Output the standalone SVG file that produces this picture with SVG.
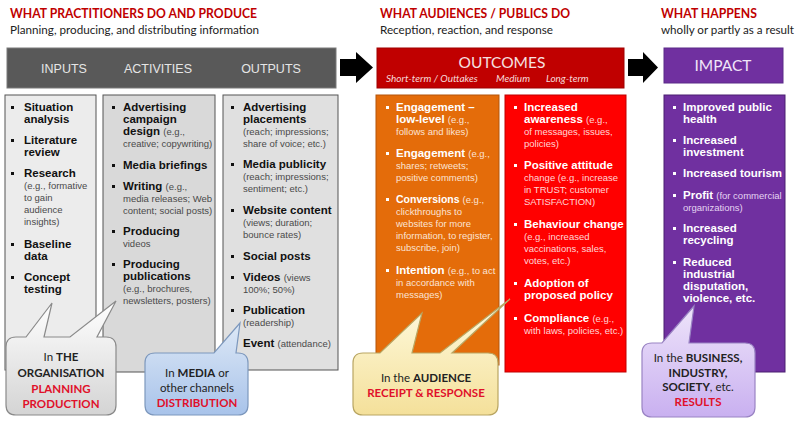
<svg xmlns="http://www.w3.org/2000/svg" width="800" height="428" viewBox="0 0 800 428">
<defs>
<style>
.h{font-family:Lato,"Open Sans",sans-serif;font-weight:700;font-size:13px;fill:#c00000}
.sh{font-family:Lato,"Open Sans",sans-serif;font-size:11.5px;fill:#222}
.bar{font-family:"Liberation Sans",Arial,sans-serif;font-size:12.5px;fill:#e6e6e6}
.bx{font-family:"Liberation Sans",Arial,sans-serif;font-size:11.5px;font-weight:700;fill:#111}
.bx .d{font-size:9.5px;font-weight:400;fill:#4a4a4a}
.wt{fill:#fff}
.wt .d{fill:#fbe3d4}
.rd .d{fill:#ffd6d6}
.pu .d{fill:#e4d4f2}
.bul{fill:#111}
.bw{fill:#fff}
.co{font-family:Lato,"Open Sans",sans-serif;font-size:11.5px;fill:#222;text-anchor:middle}
.co .b,.co.b{font-weight:700}
.co.r{font-weight:700;fill:#e0102a}
.arr{fill:#000}
</style>
<linearGradient id="gOrg" x1="0" y1="0" x2="0" y2="1"><stop offset="0" stop-color="#ffffff"/><stop offset="1" stop-color="#d4d4d4"/></linearGradient>
<linearGradient id="gMed" x1="0" y1="0" x2="0" y2="1"><stop offset="0" stop-color="#dde8f6"/><stop offset="1" stop-color="#a8c3ea"/></linearGradient>
<linearGradient id="gAud" x1="0" y1="0" x2="0" y2="1"><stop offset="0" stop-color="#fffbe0"/><stop offset="1" stop-color="#f4e09a"/></linearGradient>
<linearGradient id="gBus" x1="0" y1="0" x2="0" y2="1"><stop offset="0" stop-color="#eee4fa"/><stop offset="1" stop-color="#c9b0f0"/></linearGradient>
</defs>
<rect width="800" height="428" fill="#fff"/>

<g id="headers">
<text class="h" x="10" y="18" textLength="247" lengthAdjust="spacingAndGlyphs">WHAT PRACTITIONERS DO AND PRODUCE</text>
<text class="sh" x="10" y="34" textLength="249" lengthAdjust="spacingAndGlyphs">Planning, producing, and distributing information</text>
<text class="h" x="380" y="18" textLength="190" lengthAdjust="spacingAndGlyphs">WHAT AUDIENCES / PUBLICS DO</text>
<text class="sh" x="380" y="34" textLength="173" lengthAdjust="spacingAndGlyphs">Reception, reaction, and response</text>
<text class="h" x="661" y="18" textLength="96" lengthAdjust="spacingAndGlyphs">WHAT HAPPENS</text>
<text class="sh" x="661" y="34" textLength="133" lengthAdjust="spacingAndGlyphs">wholly or partly as a result</text>
</g>

<g id="practitioners-bar">
<rect x="7" y="48" width="329" height="40" fill="#595959" stroke="#7a7a7a"/>
<text class="bar" x="64" y="73" text-anchor="middle">INPUTS</text>
<text class="bar" x="158" y="73" text-anchor="middle">ACTIVITIES</text>
<text class="bar" x="271" y="73" text-anchor="middle">OUTPUTS</text>
</g>

<g id="outcomes-bar">
<rect x="377" y="48" width="247" height="40" fill="#c00000" stroke="#a00000"/>
<text x="502" y="68" text-anchor="middle" font-family="Lato,'Open Sans',sans-serif" font-size="15.5" fill="#f6e0e0">OUTCOMES</text>
<g font-family="Lato,'Open Sans',sans-serif" font-size="10" font-style="italic" fill="#f6dada">
<text x="386" y="82">Short-term / Outtakes</text>
<text x="496" y="82">Medium</text>
<text x="546" y="82">Long-term</text>
</g>
</g>

<g id="impact-bar">
<rect x="664" y="48" width="119" height="35" fill="#7030a0" stroke="#5a2a88"/>
<text x="723" y="71" text-anchor="middle" font-family="Lato,'Open Sans',sans-serif" font-size="15.5" fill="#f0e6f8">IMPACT</text>
</g>

<g id="connectors">
<path class="arr" d="M340,59 H356 V52 L373,67.5 L356,83 V76 H340 Z"/>
<path class="arr" d="M628,59 H643 V52 L658,67.5 L643,83 V76 H628 Z"/>
</g>

<g id="inputs">
<rect x="5" y="95" width="91" height="275" fill="#ececec" stroke="#555"/>
<g class="bx">
<rect class="bul" x="11" y="106" width="3" height="3"/>
<text x="24" y="111">Situation</text><text x="24" y="123">analysis</text>
<rect class="bul" x="11" y="139" width="3" height="3"/>
<text x="24" y="144">Literature</text><text x="24" y="156">review</text>
<rect class="bul" x="11" y="172" width="3" height="3"/>
<text x="24" y="177">Research</text>
<text class="d" x="24" y="189">(e.g., formative</text>
<text class="d" x="24" y="201">to gain</text>
<text class="d" x="24" y="213">audience</text>
<text class="d" x="24" y="225">insights)</text>
<rect class="bul" x="11" y="243" width="3" height="3"/>
<text x="24" y="248">Baseline</text><text x="24" y="260">data</text>
<rect class="bul" x="11" y="276" width="3" height="3"/>
<text x="24" y="281">Concept</text><text x="24" y="293">testing</text>
</g>
</g>

<g id="activities">
<rect x="103" y="95" width="112" height="277" fill="#d9d9d9" stroke="#555"/>
<g class="bx">
<rect class="bul" x="112" y="106" width="3" height="3"/>
<text x="123" y="111">Advertising</text><text x="123" y="123">campaign</text>
<text x="123" y="135">design <tspan class="d">(e.g.,</tspan></text>
<text class="d" x="123" y="147">creative; copywriting)</text>
<rect class="bul" x="112" y="164" width="3" height="3"/>
<text x="123" y="169">Media briefings</text>
<rect class="bul" x="112" y="185" width="3" height="3"/>
<text x="123" y="190">Writing <tspan class="d">(e.g.,</tspan></text>
<text class="d" x="123" y="202">media releases; Web</text>
<text class="d" x="123" y="214">content; social posts)</text>
<rect class="bul" x="112" y="230" width="3" height="3"/>
<text x="123" y="235">Producing</text>
<text class="d" x="123" y="247">videos</text>
<rect class="bul" x="112" y="263" width="3" height="3"/>
<text x="123" y="268">Producing</text><text x="123" y="280">publications</text>
<text class="d" x="123" y="292">(e.g., brochures,</text>
<text class="d" x="123" y="304">newsletters, posters)</text>
</g>
</g>

<g id="outputs">
<rect x="223" y="95" width="115" height="275" fill="#e0e0e0" stroke="#555"/>
<g class="bx">
<rect class="bul" x="231" y="106" width="3" height="3"/>
<text x="243" y="111">Advertising</text><text x="243" y="123">placements</text>
<text class="d" x="243" y="135">(reach; impressions;</text>
<text class="d" x="243" y="147">share of voice; etc.)</text>
<rect class="bul" x="231" y="163" width="3" height="3"/>
<text x="243" y="168">Media publicity</text>
<text class="d" x="243" y="180">(reach; impressions;</text>
<text class="d" x="243" y="192">sentiment; etc.)</text>
<rect class="bul" x="231" y="209" width="3" height="3"/>
<text x="243" y="214">Website content</text>
<text class="d" x="243" y="226">(views; duration;</text>
<text class="d" x="243" y="238">bounce rates)</text>
<rect class="bul" x="231" y="255" width="3" height="3"/>
<text x="243" y="260">Social posts</text>
<rect class="bul" x="231" y="276" width="3" height="3"/>
<text x="243" y="281">Videos <tspan class="d">(views</tspan></text>
<text class="d" x="243" y="293">100%; 50%)</text>
<rect class="bul" x="231" y="309" width="3" height="3"/>
<text x="243" y="314">Publication</text>
<text class="d" x="243" y="326">(readership)</text>
<text x="243" y="347">Event <tspan class="d">(attendance)</tspan></text>
</g>
</g>

<g id="short-term">
<rect x="376" y="95" width="123" height="270" fill="#e46c0a" stroke="#b3540a"/>
<g class="bx wt">
<rect class="bw" x="386" y="106" width="3" height="3"/>
<text x="396" y="111">Engagement –</text>
<text x="396" y="123">low-level <tspan class="d">(e.g.,</tspan></text>
<text class="d" x="396" y="135">follows and likes)</text>
<rect class="bw" x="386" y="152" width="3" height="3"/>
<text x="396" y="157">Engagement <tspan class="d">(e.g.,</tspan></text>
<text class="d" x="396" y="169">shares; retweets;</text>
<text class="d" x="396" y="181">positive comments)</text>
<rect class="bw" x="386" y="198" width="3" height="3"/>
<text x="396" y="203" font-size="10.5">Conversions <tspan class="d">(e.g.,</tspan></text>
<text class="d" x="396" y="215">clickthroughs to</text>
<text class="d" x="396" y="227">websites for more</text>
<text class="d" x="396" y="239">information, to register,</text>
<text class="d" x="396" y="251">subscribe, join)</text>
<rect class="bw" x="386" y="269" width="3" height="3"/>
<text x="396" y="274">Intention <tspan class="d">(e.g., to act</tspan></text>
<text class="d" x="396" y="286">in accordance with</text>
<text class="d" x="396" y="298">messages)</text>
</g>
</g>

<g id="medium-long-term">
<rect x="505" y="95" width="121" height="277" fill="#ff0000" stroke="#c00000"/>
<g class="bx wt rd">
<rect class="bw" x="514" y="106" width="3" height="3"/>
<text x="524" y="111">Increased</text>
<text x="524" y="123">awareness <tspan class="d">(e.g.,</tspan></text>
<text class="d" x="524" y="135">of messages, issues,</text>
<text class="d" x="524" y="147">policies)</text>
<rect class="bw" x="514" y="164" width="3" height="3"/>
<text x="524" y="169">Positive attitude</text>
<text class="d" x="524" y="181">change (e.g., increase</text>
<text class="d" x="524" y="193">in TRUST; customer</text>
<text class="d" x="524" y="205">SATISFACTION)</text>
<rect class="bw" x="514" y="223" width="3" height="3"/>
<text x="524" y="228">Behaviour change</text>
<text class="d" x="524" y="240">(e.g., increased</text>
<text class="d" x="524" y="252">vaccinations, sales,</text>
<text class="d" x="524" y="264">votes, etc.)</text>
<rect class="bw" x="514" y="282" width="3" height="3"/>
<text x="524" y="287">Adoption of</text>
<text x="524" y="299">proposed policy</text>
<rect class="bw" x="514" y="317" width="3" height="3"/>
<text x="524" y="322">Compliance <tspan class="d">(e.g.,</tspan></text>
<text class="d" x="524" y="334">with laws, policies, etc.)</text>
</g>
</g>

<g id="impact">
<rect x="664" y="95" width="121" height="277" fill="#7030a0" stroke="#4b1f70"/>
<g class="bx wt pu">
<rect class="bw" x="673" y="106" width="3" height="3"/>
<text x="683" y="111">Improved public</text><text x="683" y="123">health</text>
<rect class="bw" x="673" y="139" width="3" height="3"/>
<text x="683" y="144">Increased</text><text x="683" y="156">investment</text>
<rect class="bw" x="673" y="172" width="3" height="3"/>
<text x="683" y="177">Increased tourism</text>
<rect class="bw" x="673" y="194" width="3" height="3"/>
<text x="683" y="199">Profit <tspan class="d">(for commercial</tspan></text>
<text class="d" x="683" y="211">organizations)</text>
<rect class="bw" x="673" y="227" width="3" height="3"/>
<text x="683" y="232">Increased</text><text x="683" y="244">recycling</text>
<rect class="bw" x="673" y="261" width="3" height="3"/>
<text x="683" y="266">Reduced</text><text x="683" y="278">industrial</text>
<text x="683" y="290">disputation,</text><text x="683" y="302">violence, etc.</text>
</g>
</g>

<g id="callout-organisation">
<path d="M16,337 H26 L52,303 L44,337 H70 L116,301 L97,337 H106 Q116,337 116,347 V405 Q116,415 106,415 H16 Q6,415 6,405 V347 Q6,337 16,337 Z" fill="url(#gOrg)" stroke="#8a8a8a" stroke-width="1.2"/>
<text class="co" x="61" y="361">In <tspan class="b">THE</tspan></text>
<text class="co b" x="61" y="377">ORGANISATION</text>
<text class="co r" x="61" y="393">PLANNING</text>
<text class="co r" x="61" y="408">PRODUCTION</text>
</g>

<g id="callout-media">
<path d="M155,353 H214 L240,323 L236,353 H238 Q248,353 248,363 V405 Q248,415 238,415 H155 Q145,415 145,405 V363 Q145,353 155,353 Z" fill="url(#gMed)" stroke="#7d98bd" stroke-width="1.2"/>
<text class="co" x="197" y="377">In <tspan class="b">MEDIA</tspan> or</text>
<text class="co" x="197" y="392">other channels</text>
<text class="co r" x="197" y="407">DISTRIBUTION</text>
</g>

<g id="callout-audience">
<path d="M363,353 H380 L422,313 L412,353 H440 L510,299 L452,353 H488 Q498,353 498,363 V405 Q498,415 488,415 H363 Q353,415 353,405 V363 Q353,353 363,353 Z" fill="url(#gAud)" stroke="#b9a663" stroke-width="1.2"/>
<text class="co" x="426" y="382">In the <tspan class="b">AUDIENCE</tspan></text>
<text class="co r" x="426" y="397">RECEIPT &amp; RESPONSE</text>
</g>

<g id="callout-business">
<path d="M652,343 H662 L694,306 L689,343 H745 Q755,343 755,353 V407 Q755,417 745,417 H652 Q642,417 642,407 V353 Q642,343 652,343 Z" fill="url(#gBus)" stroke="#9a84c4" stroke-width="1.2"/>
<text class="co" x="698" y="362">In the <tspan class="b">BUSINESS,</tspan></text>
<text class="co b" x="698" y="377">INDUSTRY,</text>
<text class="co" x="698" y="391"><tspan class="b">SOCIETY</tspan>, etc.</text>
<text class="co r" x="698" y="406">RESULTS</text>
</g>
</svg>
